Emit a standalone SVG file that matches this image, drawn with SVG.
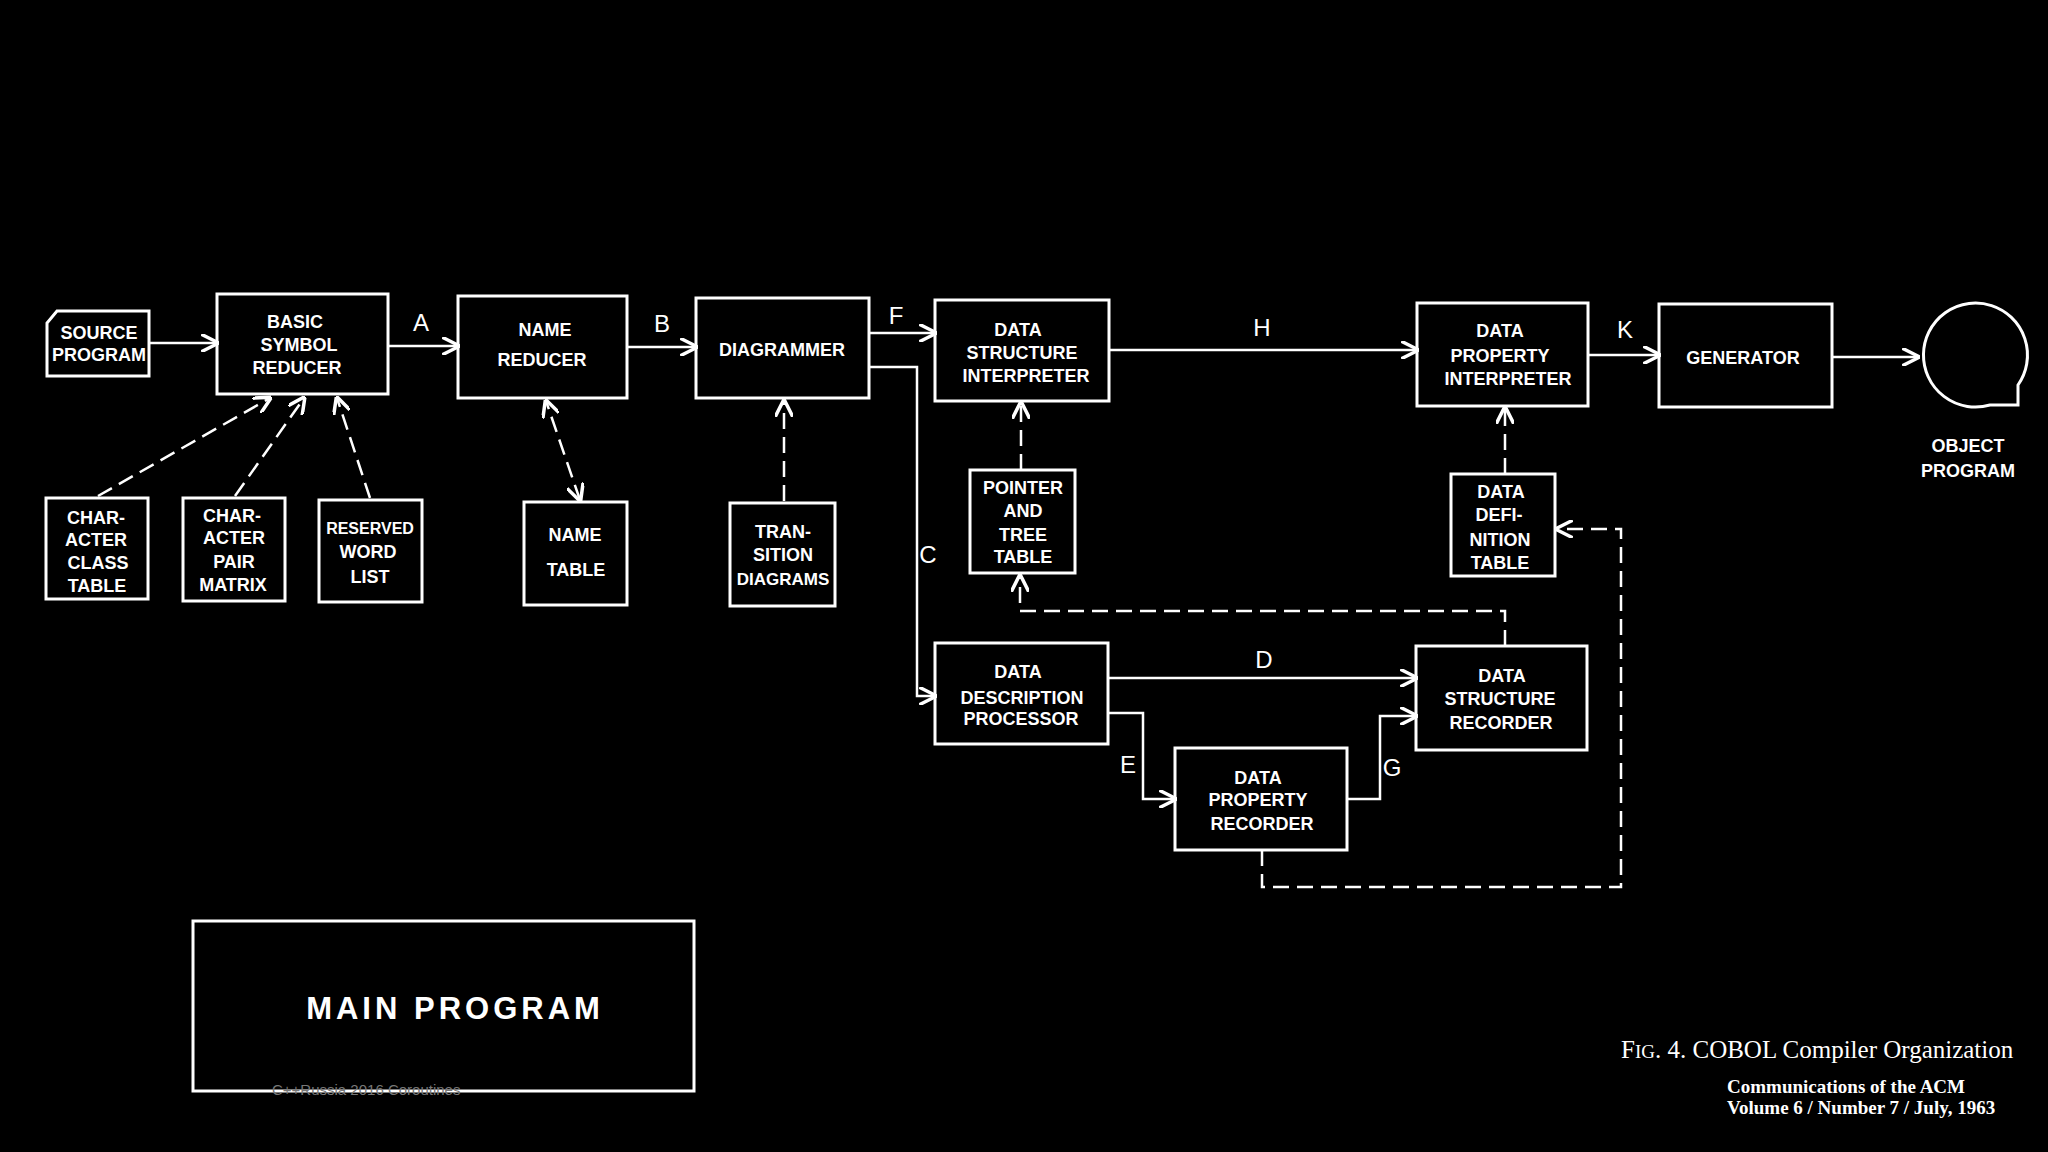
<svg xmlns="http://www.w3.org/2000/svg" width="2048" height="1152" viewBox="0 0 2048 1152">
<defs>
<style>
.b{fill:none;stroke:#fff;stroke-width:3}
.t{fill:#fff;font-family:"Liberation Sans",Arial,sans-serif;font-weight:bold;font-size:18px;text-anchor:middle}
.l{fill:#fff;font-family:"Liberation Sans",Arial,sans-serif;font-size:24px;text-anchor:middle}
.c{fill:none;stroke:#fff;stroke-width:2.5}
.d{fill:none;stroke:#fff;stroke-width:2.5;stroke-dasharray:16 8}
.cap{fill:#fff;font-family:"Liberation Serif","Times New Roman",serif}
</style>
<marker id="ar" viewBox="0 0 10 10" refX="9" refY="5" markerWidth="7" markerHeight="7" orient="auto-start-reverse"><path d="M0,0 L10,5 L0,10" fill="none" stroke="#fff" stroke-width="2"/></marker>
</defs>
<rect width="2048" height="1152" fill="#000"/>
<g id="connectors">
<path class="c" d="M149,343 H217" marker-end="url(#ar)"/>
<path class="c" d="M388,346 H458" marker-end="url(#ar)"/>
<path class="c" d="M627,347 H696" marker-end="url(#ar)"/>
<path class="c" d="M869,333 H935" marker-end="url(#ar)"/>
<path class="c" d="M869,367 H917 V696 H935" marker-end="url(#ar)"/>
<path class="c" d="M1109,350 H1417" marker-end="url(#ar)"/>
<path class="c" d="M1588,355 H1659" marker-end="url(#ar)"/>
<path class="c" d="M1832,357 H1918" marker-end="url(#ar)"/>
<path class="c" d="M1108,678 H1416" marker-end="url(#ar)"/>
<path class="c" d="M1108,713 H1143 V799 H1175" marker-end="url(#ar)"/>
<path class="c" d="M1347,799 H1380 V716 H1416" marker-end="url(#ar)"/>
<path class="d" d="M98,496 L270,398" marker-end="url(#ar)"/>
<path class="d" d="M235,496 L304,398" marker-end="url(#ar)"/>
<path class="d" d="M370,498 L337,398" marker-end="url(#ar)"/>
<path class="d" d="M580,500 L546,401" marker-start="url(#ar)" marker-end="url(#ar)"/>
<path class="d" d="M784,501 V401" marker-end="url(#ar)"/>
<path class="d" d="M1021,470 V403" marker-end="url(#ar)"/>
<path class="d" d="M1505,474 V408" marker-end="url(#ar)"/>
<path class="d" d="M1505,646 V611 H1020 V576" marker-end="url(#ar)"/>
<path class="d" d="M1262,850 V887 H1621 V529 H1557" marker-end="url(#ar)"/>
<text class="l" x="421" y="331">A</text>
<text class="l" x="662" y="332">B</text>
<text class="l" x="896" y="324">F</text>
<text class="l" x="928" y="563">C</text>
<text class="l" x="1262" y="336">H</text>
<text class="l" x="1625" y="338">K</text>
<text class="l" x="1264" y="668">D</text>
<text class="l" x="1128" y="773">E</text>
<text class="l" x="1392" y="776">G</text>
</g>
<g id="source"><path class="b" d="M57,311 H149 V376 H47 V323 Z"/><text class="t" x="99" y="339">SOURCE</text><text class="t" x="99" y="361">PROGRAM</text></g>
<g id="bsr"><rect class="b" x="217" y="294" width="171" height="100"/><text class="t" x="295" y="328">BASIC</text><text class="t" x="299" y="351">SYMBOL</text><text class="t" x="297" y="374">REDUCER</text></g>
<g id="nr"><rect class="b" x="458" y="296" width="169" height="102"/><text class="t" x="545" y="336">NAME</text><text class="t" x="542" y="366">REDUCER</text></g>
<g id="diag"><rect class="b" x="696" y="298" width="173" height="100"/><text class="t" x="782" y="356">DIAGRAMMER</text></g>
<g id="dsi"><rect class="b" x="935" y="300" width="174" height="101"/><text class="t" x="1018" y="336">DATA</text><text class="t" x="1022" y="359">STRUCTURE</text><text class="t" x="1026" y="382">INTERPRETER</text></g>
<g id="dpi"><rect class="b" x="1417" y="303" width="171" height="103"/><text class="t" x="1500" y="337">DATA</text><text class="t" x="1500" y="362">PROPERTY</text><text class="t" x="1508" y="385">INTERPRETER</text></g>
<g id="gen"><rect class="b" x="1659" y="304" width="173" height="103"/><text class="t" x="1743" y="364">GENERATOR</text></g>
<g id="obj"><path class="b" d="M1990,405 A52,52 0 1 1 2018,385 L2018,405 Z"/><text class="t" x="1968" y="452">OBJECT</text><text class="t" x="1968" y="477">PROGRAM</text></g>
<g id="cct"><rect class="b" x="46" y="498" width="102" height="101"/><text class="t" x="96" y="524">CHAR-</text><text class="t" x="96" y="546">ACTER</text><text class="t" x="98" y="569">CLASS</text><text class="t" x="97" y="592">TABLE</text></g>
<g id="cpm"><rect class="b" x="183" y="498" width="102" height="103"/><text class="t" x="232" y="522">CHAR-</text><text class="t" x="234" y="544">ACTER</text><text class="t" x="234" y="568">PAIR</text><text class="t" x="233" y="591">MATRIX</text></g>
<g id="rwl"><rect class="b" x="319" y="500" width="103" height="102"/><text class="t" x="370" y="534" style="font-size:16px">RESERVED</text><text class="t" x="368" y="558">WORD</text><text class="t" x="370" y="583">LIST</text></g>
<g id="nt"><rect class="b" x="524" y="502" width="103" height="103"/><text class="t" x="575" y="541">NAME</text><text class="t" x="576" y="576">TABLE</text></g>
<g id="td"><rect class="b" x="730" y="503" width="105" height="103"/><text class="t" x="783" y="538">TRAN-</text><text class="t" x="783" y="561">SITION</text><text class="t" x="783" y="585" style="font-size:17px">DIAGRAMS</text></g>
<g id="ptt"><rect class="b" x="970" y="470" width="105" height="103"/><text class="t" x="1023" y="494">POINTER</text><text class="t" x="1023" y="517">AND</text><text class="t" x="1023" y="541">TREE</text><text class="t" x="1023" y="563">TABLE</text></g>
<g id="ddt"><rect class="b" x="1451" y="474" width="104" height="102"/><text class="t" x="1501" y="498">DATA</text><text class="t" x="1499" y="521">DEFI-</text><text class="t" x="1500" y="546">NITION</text><text class="t" x="1500" y="569">TABLE</text></g>
<g id="ddp"><rect class="b" x="935" y="643" width="173" height="101"/><text class="t" x="1018" y="678">DATA</text><text class="t" x="1022" y="704">DESCRIPTION</text><text class="t" x="1021" y="725">PROCESSOR</text></g>
<g id="dsr"><rect class="b" x="1416" y="646" width="171" height="104"/><text class="t" x="1502" y="682">DATA</text><text class="t" x="1500" y="705">STRUCTURE</text><text class="t" x="1501" y="729">RECORDER</text></g>
<g id="dpr"><rect class="b" x="1175" y="748" width="172" height="102"/><text class="t" x="1258" y="784">DATA</text><text class="t" x="1258" y="806">PROPERTY</text><text class="t" x="1262" y="830">RECORDER</text></g>
<g id="main"><rect class="b" x="193" y="921" width="501" height="170"/><text class="t" x="455" y="1019" style="font-size:31px;letter-spacing:4px">MAIN  PROGRAM</text></g>
<text x="272" y="1095" fill="#777" font-family="Liberation Sans,sans-serif" font-size="15">C++Russia 2016 Coroutines</text>
<text class="cap" x="1621" y="1058" font-size="25">F<tspan font-size="19">IG</tspan>. 4. COBOL Compiler Organization</text>
<text class="cap" x="1727" y="1093" font-size="19" font-weight="bold">Communications of the ACM</text>
<text class="cap" x="1727" y="1114" font-size="19" font-weight="bold">Volume 6 / Number 7 / July, 1963</text>
</svg>
